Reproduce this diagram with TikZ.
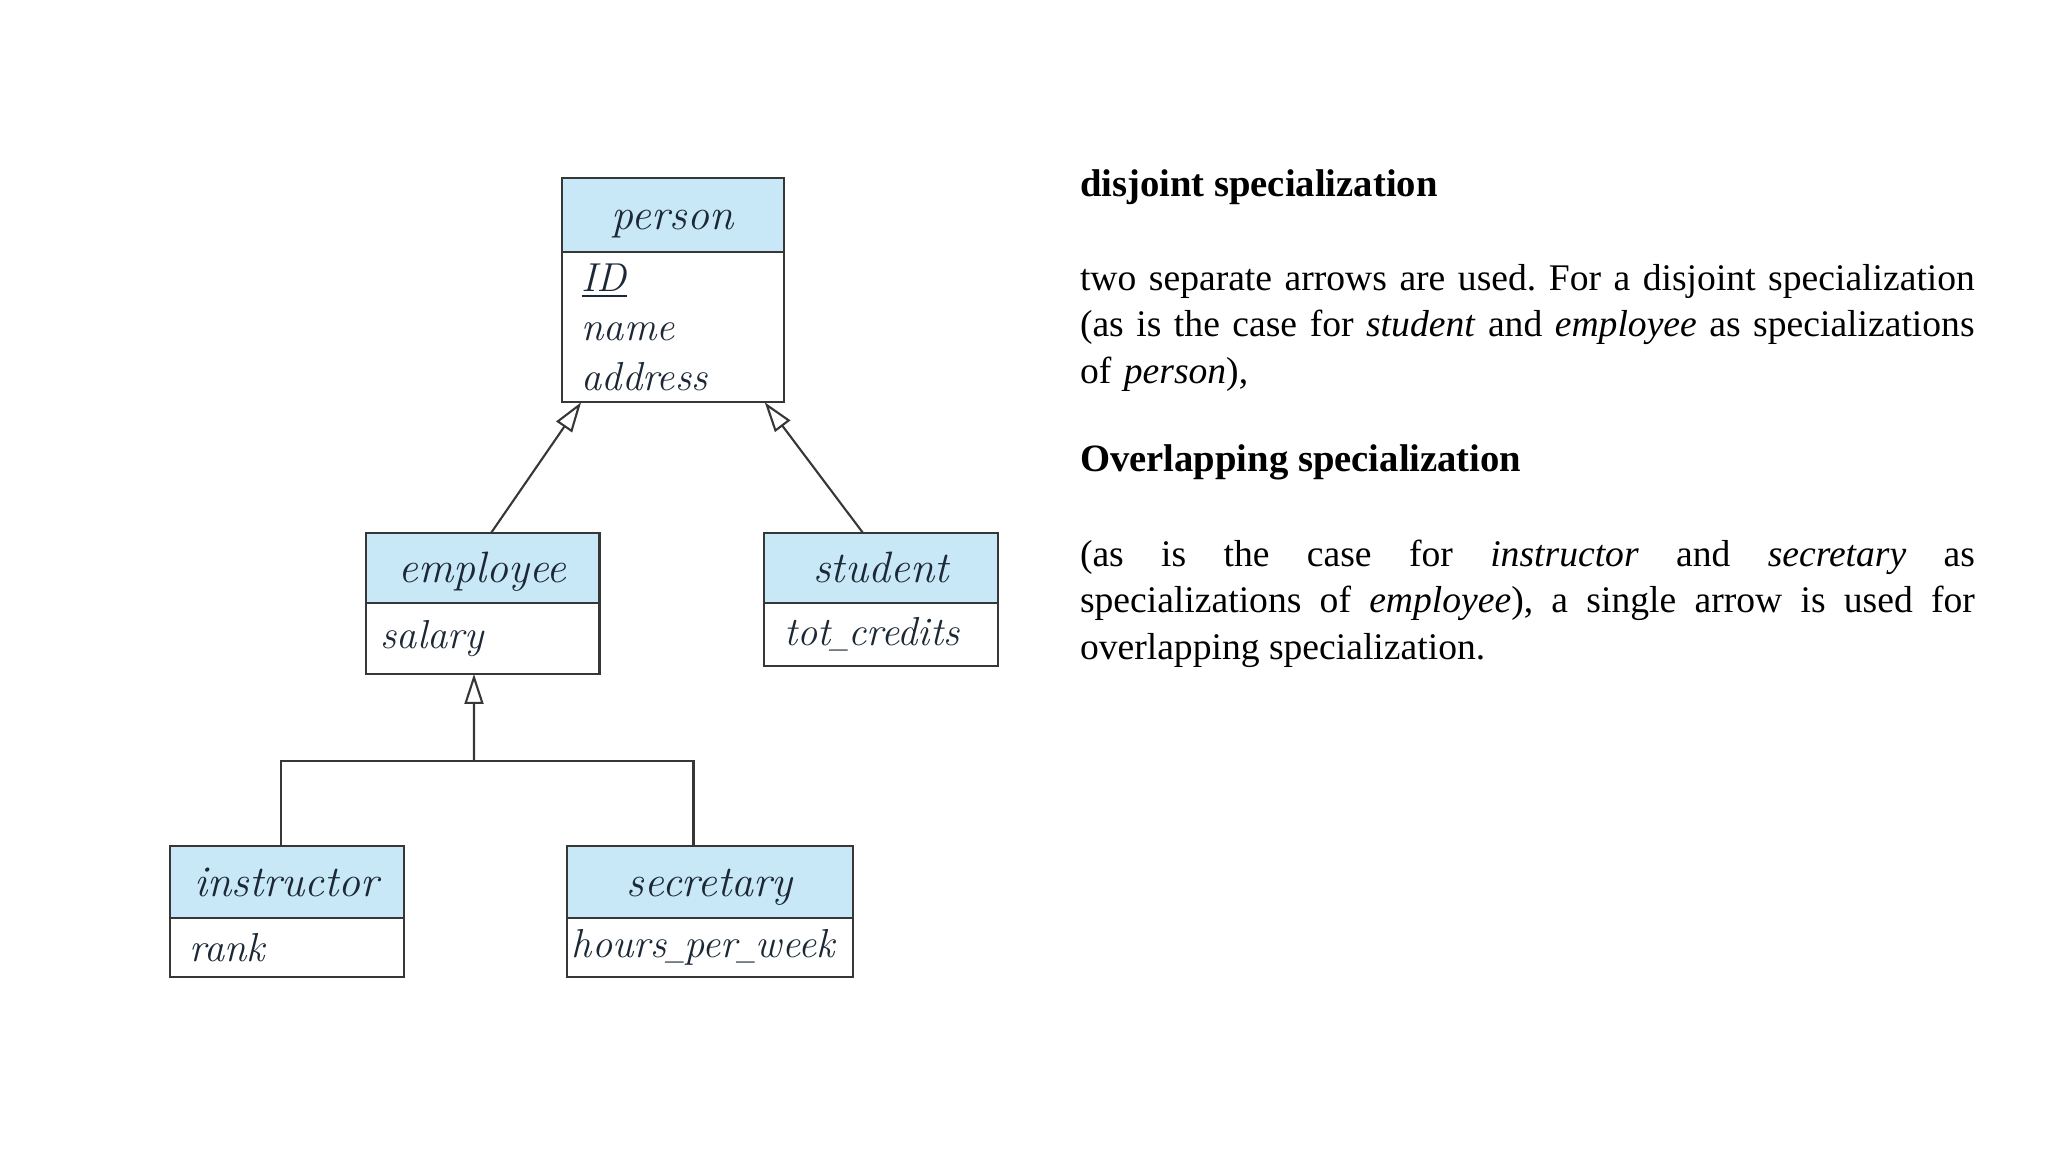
\documentclass[tikz,border=0pt]{standalone}
\usepackage{fontspec}
\usetikzlibrary{positioning,arrows.meta}

\newfontfamily\notefont{Liberation Serif}
\newcommand{\usc}{\scalebox{.62}[1]{\_}}
\newcommand{\notestyle}{\notefont\fontsize{10.7}{13.2}\selectfont\frenchspacing\hyphenpenalty=10000\relax}

\definecolor{headblue}{RGB}{200,232,247}
\definecolor{linegray}{RGB}{55,55,55}
\definecolor{labelink}{RGB}{28,40,54}

\begin{document}
\begin{tikzpicture}[x=0.1mm, y=-0.1mm]

\tikzset{%
every node/.style={outer sep=0pt},%
every path/.style={line width=.6pt}%
}

\tikzstyle{head}=[draw=linegray, fill=headblue, text=labelink, inner sep=0pt, text height=2.9mm, text depth=0pt, font=\itshape\fontsize{12.5}{14}\selectfont]
\tikzstyle{attrs}=[draw=linegray, fill=white, text=labelink, inner xsep=2mm, inner ysep=0pt, align=left, font=\itshape\fontsize{11.5}{14.1}\selectfont]
\tikzstyle{note}=[inner sep=0pt, font=\notestyle]
\tikzstyle{isa}=[draw=linegray, -{Triangle[open, length=3mm, width=1.9mm]}]
\tikzstyle{link}=[draw=linegray]

\useasboundingbox (0,0) rectangle (2048,1152);

% classes
\node[head, anchor=north west, minimum width=22.21mm, minimum height=7.44mm] (person) at (561.6,177.6) {person};
\node[attrs, below=0pt of person, text width=18.21mm, minimum height=15.03mm] (person-attr) {\underline{ID}\\name\\address};

\node[head, anchor=north west, minimum width=23.38mm, minimum height=7.05mm] (employee) at (365.7,532.9) {employee};
\node[attrs, below=0pt of employee, inner xsep=1.5mm, text width=20.38mm, minimum height=7.06mm] (employee-attr) {salary};

\node[head, anchor=north west, minimum width=23.39mm, minimum height=7.05mm] (student) at (764,532.9) {student};
\node[attrs, below=0pt of student, text width=19.39mm, minimum height=6.27mm] (student-attr) {tot\usc credits};

\node[head, anchor=north west, minimum width=23.38mm, minimum height=7.18mm] (instructor) at (169.8,846.4) {instructor};
\node[attrs, below=0pt of instructor, text width=19.38mm, minimum height=5.88mm] (instructor-attr) {rank};

\node[head, anchor=north west, minimum width=28.61mm, minimum height=7.18mm] (secretary) at (566.8,846.4) {secretary};
\node[attrs, below=0pt of secretary, inner xsep=.5mm, text width=27.61mm, minimum height=5.88mm] (secretary-attr) {hours\usc per\usc week};

% disjoint: one arrow each
\draw[isa] ([xshift=.85mm]employee.north) to ([xshift=1.95mm]person-attr.south west);
\draw[isa] ([xshift=-1.8mm]student.north) to ([xshift=-1.9mm]person-attr.south east);

% overlapping: one shared arrow
\coordinate (split) at (474,761.4);
\draw[isa] (split) to ([xshift=-.86mm]employee-attr.south);
\draw[link] ([xshift=-.6mm]instructor.north) |- (split) -| ([xshift=-1.64mm]secretary.north);

% notes
\node[note, anchor=base west, font=\notefont\fontsize{11}{13.2}\selectfont] (disjoint-head) at (1080,197) {\bfseries disjoint specialization};
\node[note, anchor=north west, text width=89.5mm, align=left] (disjoint-text) at (1080,258)
  {\strut two separate arrows are used. For a disjoint specialization\\(as is the case for \textit{student} and \textit{employee} as specializations\\of \textit{person}),};

\node[note, anchor=base west, font=\notefont\fontsize{11}{13.2}\selectfont] (overlap-head) at (1080,472) {\bfseries Overlapping specialization};
\node[note, anchor=north west, text width=89.5mm, align=justify] (overlap-text) at (1080,534)
  {\strut (as is the case for \textit{instructor} and \textit{secretary} as\linebreak specializations of \textit{employee}), a single arrow is used for\linebreak overlapping specialization.};

\end{tikzpicture}
\end{document}
